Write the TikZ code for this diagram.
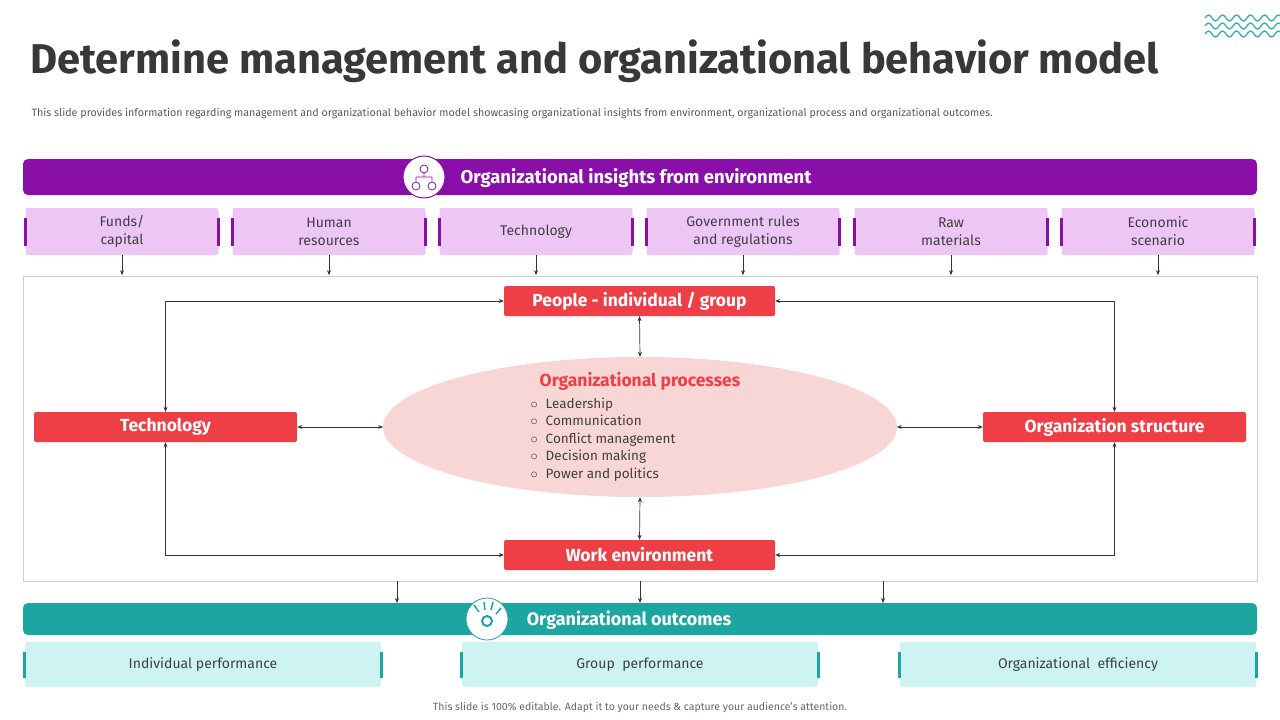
\documentclass[tikz,border=0pt]{standalone}
\usepackage{fontspec}
\setmainfont{Fira Sans}
\usetikzlibrary{arrows.meta,calc,shapes.geometric}
\definecolor{purp}{HTML}{8A0FA8}
\definecolor{lpurp}{HTML}{EEC6F6}
\definecolor{redb}{HTML}{EE3E46}
\definecolor{pinkel}{HTML}{F9D6D6}
\definecolor{teal}{HTML}{1BA6A2}
\definecolor{lteal}{HTML}{CDF3F3}
\definecolor{txt}{HTML}{404040}
\tikzset{
  envbox/.style={fill=lpurp,rounded corners=2pt,minimum width=193pt,minimum height=47pt,align=center,font=\fontsize{14}{18}\selectfont,text=txt,inner sep=0pt},
  outbox/.style={fill=lteal,rounded corners=2pt,minimum width=356pt,minimum height=45pt,font=\fontsize{14}{18}\selectfont,text=txt,inner sep=0pt},
  redbox/.style={fill=redb,rounded corners=2pt,minimum height=30pt,text=white,font=\fontsize{17.5}{20}\selectfont\bfseries,inner sep=0pt},
  arr/.style={-{Stealth[length=5pt,width=4pt]},black!80,line width=0.7pt},
  darr/.style={{Stealth[length=5pt,width=4pt]}-{Stealth[length=5pt,width=4pt]},black!80,line width=0.7pt},
}
\begin{document}
\begin{tikzpicture}[x=1pt,y=-1pt]
\useasboundingbox (0,0) rectangle (1280,720);
% waves
\foreach \yy in {18,26,34}{
  \draw[teal!90,line width=1.3pt] (1205,\yy) \foreach \i in {0,...,5}{ sin ++(3.5,-3) cos ++(3.5,3) sin ++(3.5,3) cos ++(3.5,-3)};
}
\node[anchor=west,font=\fontsize{41.6}{44}\selectfont\bfseries,text=black!78] (title) at (27,61) {Determine management and organizational behavior model};
\node[anchor=west,font=\fontsize{10.7}{12}\selectfont,text=black!65] (sub) at (28,113) {This slide provides information regarding management and organizational behavior model showcasing organizational insights from environment, organizational process and organizational outcomes.};
% purple bar
\node[fill=purp,rounded corners=5pt,minimum width=1234pt,minimum height=36pt,inner sep=0pt] (pbar) at (640,177) {};
\node[text=white,font=\fontsize{18.5}{20}\selectfont\bfseries] (ptitle) at (636,178) {Organizational insights from environment};
\node[circle,fill=white,draw=purp,line width=1pt,minimum size=42pt] (picon) at (424,177) {};
\draw[purp,line width=0.8pt] (424,169) circle (4) (424,173)--(424,177) (416,177)--(432,177) (416,177)--(416,181) (432,177)--(432,181) (416,186) circle (4) (432,186) circle (4);
% env boxes
\foreach \n/\x/\t in {e1/122/{Funds/\\capital},e2/329/{Human\\resources},e3/536/{Technology},e4/743/{Government rules\\and regulations},e5/951/{Raw\\materials},e6/1158/{Economic\\scenario}}{
  \node[envbox] (\n) at (\x,231.5) {\t};
  \fill[purp] ($(\n.west)+(-1.5,-14)$) rectangle ($(\n.west)+(1.5,14)$);
  \fill[purp] ($(\n.east)+(-1.5,-14)$) rectangle ($(\n.east)+(1.5,14)$);
}
% frame
\draw[black!20,line width=0.8pt] (23,276) rectangle (1257,581);
\foreach \n in {e1,e2,e3,e4,e5,e6}{
  \coordinate (\n t) at ($(\n.south)+(0,20)$);
  \draw[arr] (\n.south) -- (\n t);
}
% ellipse
\node[ellipse,fill=pinkel,minimum width=514pt,minimum height=140pt,inner sep=0pt] (ell) at (640,427) {};
\node[text=redb,font=\fontsize{17.5}{20}\selectfont\bfseries] (ellt) at (640,381) {Organizational processes};
\node[anchor=north west,align=left,text=txt,font=\fontsize{13.5}{17.5}\selectfont] (elll) at (527,394) {$\circ$\hspace{8pt}Leadership\\$\circ$\hspace{8pt}Communication\\$\circ$\hspace{8pt}Conflict management\\$\circ$\hspace{8pt}Decision making\\$\circ$\hspace{8pt}Power and politics};
% red boxes
\node[redbox,minimum width=271pt] (people) at (639.5,301) {People - individual / group};
\node[redbox,minimum width=263pt] (tech) at (165.5,427) {Technology};
\node[redbox,minimum width=263pt] (orgs) at (1114.5,427) {Organization structure};
\node[redbox,minimum width=271pt] (work) at (639.5,555) {Work environment};
% connectors
\draw[darr] (people.west) -| (tech.north);
\draw[darr] (people.east) -| (orgs.north);
\draw[darr] (work.west) -| (tech.south);
\draw[darr] (work.east) -| (orgs.south);
\draw[darr] (tech.east) -- ++(86,0);
\draw[darr] (orgs.west) -- ++(-86,0);
\draw[darr] (people.south) -- (ell.north);
\draw[darr] (ell.south) -- (work.north);
% teal bar
\node[fill=teal,rounded corners=5pt,minimum width=1234pt,minimum height=32pt,inner sep=0pt] (tbar) at (640,619) {};
\node[text=white,font=\fontsize{18}{20}\selectfont\bfseries] (ttitle) at (629,620) {Organizational outcomes};
\node[circle,fill=white,draw=teal,line width=0.8pt,minimum size=42pt] (ticon) at (487,619) {};
\draw[teal,line width=2pt] (487,621) circle (5);
\draw[teal,line width=1.5pt] (479,612)--(474,605) (485,610)--(484,602) (491,610)--(493,602) (496,614)--(501,608);
\coordinate (fa) at (397,581); \coordinate (fb) at (640,581); \coordinate (fc) at (883,581);
\coordinate (ta) at (397,603); \coordinate (tb) at (640,603); \coordinate (tc) at (883,603);
\draw[arr] (fa)--(ta); \draw[arr] (fb)--(tb); \draw[arr] (fc)--(tc);
\foreach \n/\x/\t in {o1/203/{Individual performance},o2/640/{Group\ \ performance},o3/1078/{Organizational\ \ efficiency}}{
  \node[outbox] (\n) at (\x,664.5) {\t};
  \fill[teal] ($(\n.west)+(-1.5,-13)$) rectangle ($(\n.west)+(1.5,13)$);
  \fill[teal] ($(\n.east)+(-1.5,-13)$) rectangle ($(\n.east)+(1.5,13)$);
}
\node[text=black!60,font=\fontsize{10.5}{12}\selectfont] (foot) at (640,708) {This slide is 100\% editable. Adapt it to your needs \& capture your audience's attention.};
\end{tikzpicture}
\end{document}
